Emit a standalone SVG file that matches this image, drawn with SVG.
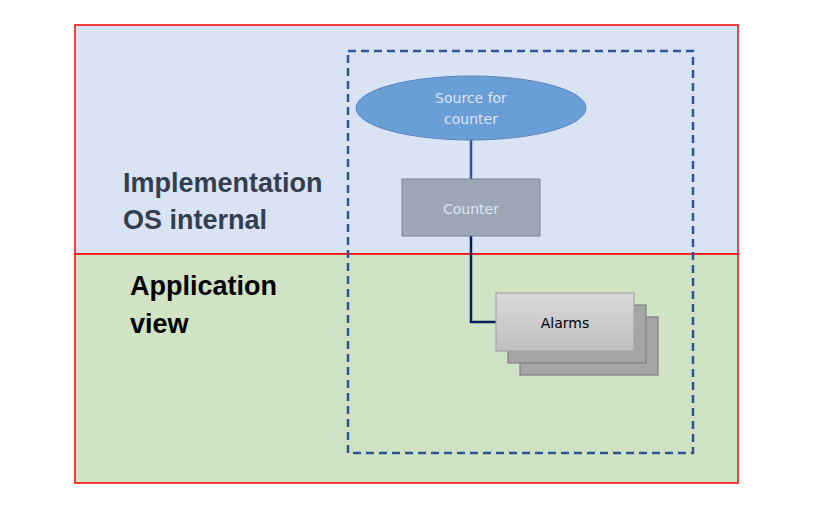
<svg xmlns="http://www.w3.org/2000/svg" width="813" height="511" viewBox="0 0 813 511">
<defs>
<style>
.lbl{font-family:"Liberation Sans",Arial,sans-serif;font-weight:bold;font-size:27px;fill:#333f50}
.lbl2{font-family:"Liberation Sans",Arial,sans-serif;font-weight:bold;font-size:27px;fill:#000}
.nt{font-family:"DejaVu Sans",sans-serif;font-size:14px;text-anchor:middle}
.al{fill:#a5a5a5;stroke:#7f7f7f;stroke-width:1.2}
</style>
<linearGradient id="g" x1="0" y1="0" x2="0" y2="1"><stop offset="0" stop-color="#d9d9d9"/><stop offset="1" stop-color="#bfbfbf"/></linearGradient>
</defs>
<rect width="813" height="511" fill="#fff"/>
<g id="regions">
<rect x="75" y="25" width="663" height="229" fill="#dae3f3" stroke="#ff0000" stroke-width="1.5"/>
<rect x="75" y="254" width="663" height="229" fill="#d0e3c4" stroke="#ff0000" stroke-width="1.5"/>
<text class="lbl" x="123" y="192">Implementation</text>
<text class="lbl" x="123" y="229">OS internal</text>
<text class="lbl2" x="130" y="295">Application</text>
<text class="lbl2" x="130" y="333">view</text>
</g>
<rect id="boundary" x="348" y="51" width="345" height="402" fill="none" stroke="#2f5597" stroke-width="2.5" stroke-dasharray="8,5"/>
<g id="connectors" fill="none">
<line x1="471" y1="140" x2="471" y2="179" stroke="#2f5597" stroke-width="2.5"/>
<polyline points="471,236 471,322 496,322" stroke="#002060" stroke-width="2.5"/>
</g>
<g id="source">
<ellipse cx="471" cy="108" rx="115" ry="32" fill="#6a9ed6" stroke="#5b87c0"/>
<text class="nt" x="471" y="103" fill="#dae3f3">Source for</text>
<text class="nt" x="471" y="124" fill="#dae3f3">counter</text>
</g>
<g id="counter">
<rect x="402" y="179" width="138" height="57" fill="#9ea7b8" stroke="#7b8494"/>
<text class="nt" x="471" y="214" fill="#dae3f3">Counter</text>
</g>
<g id="alarms">
<rect class="al" x="520" y="317" width="138" height="58"/>
<rect class="al" x="508" y="305" width="138" height="58"/>
<rect x="496" y="293" width="138" height="58" fill="url(#g)" stroke="#a5a5a5" stroke-width="1.2"/>
<text class="nt" x="565" y="328" fill="#000">Alarms</text>
</g>
</svg>
